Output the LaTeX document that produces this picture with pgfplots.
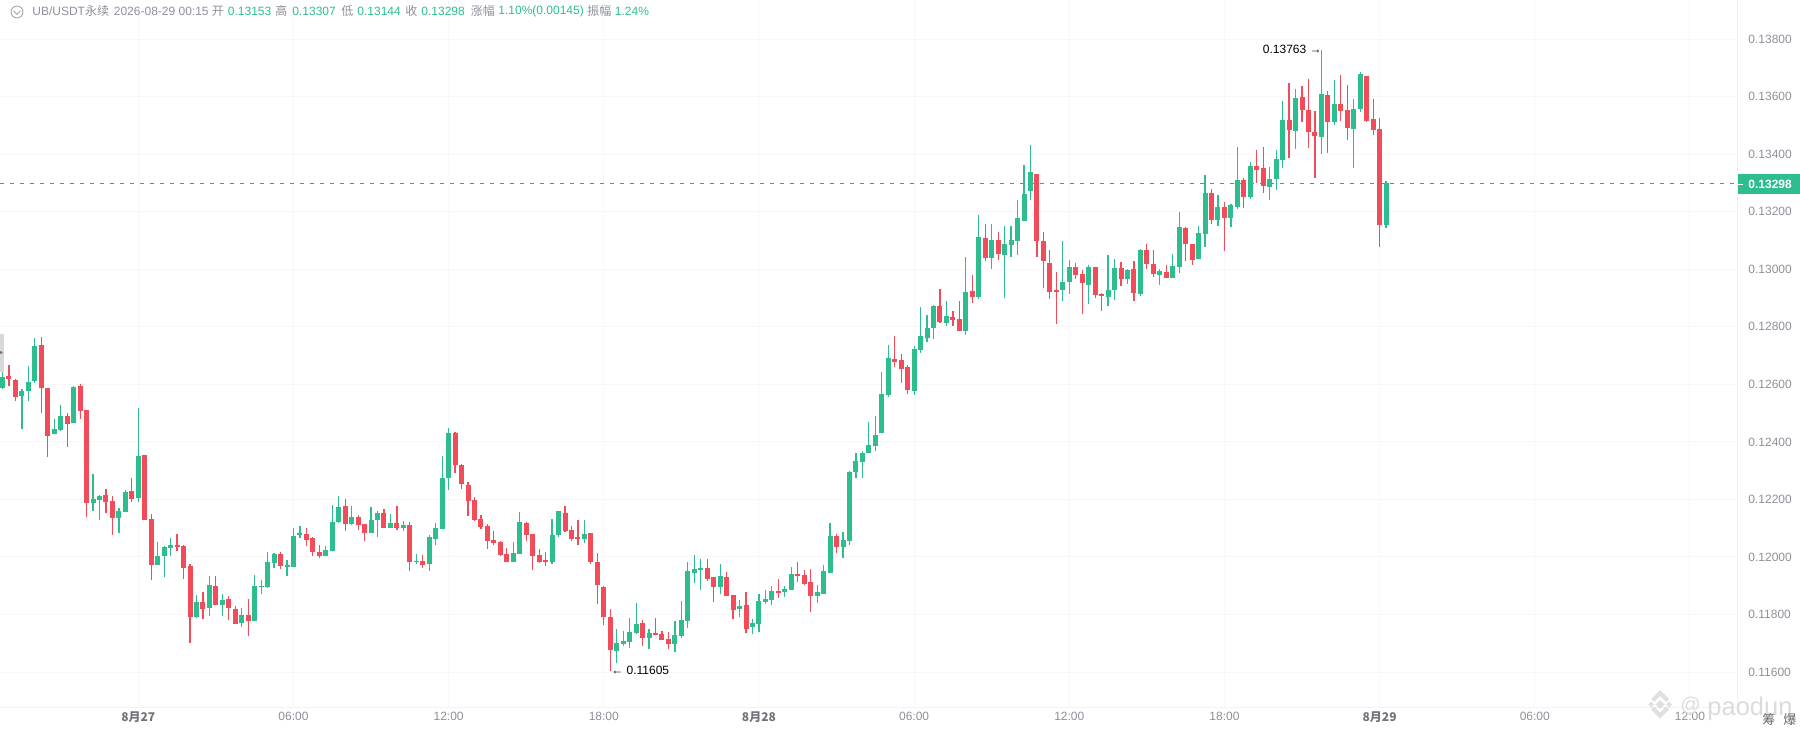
\documentclass[border=0pt]{standalone}
\usepackage{pgfplots}
\usepackage{pgfplotstable}
\pgfplotsset{compat=1.18}
\usepackage{fontspec}
\setmainfont{Liberation Sans}
\newfontfamily\cjk{Noto Sans CJK SC}
\definecolor{up}{HTML}{2DBD8F}
\definecolor{down}{HTML}{F24C5A}
\definecolor{lab}{HTML}{8C9099}
\definecolor{gridc}{HTML}{F8F8F8}
\definecolor{axc}{HTML}{F2F2F2}
\pgfplotstableread{
i o h l c
-21 0.12588 0.12644 0.12584 0.12624
-18 0.12561 0.12583 0.12444 0.12576
-17 0.12578 0.12664 0.12543 0.12608
-16 0.12613 0.12761 0.12603 0.12733
-13 0.12429 0.12478 0.12428 0.12445
-12 0.12442 0.12527 0.12439 0.12490
-10 0.12467 0.12594 0.12466 0.12591
-7 0.12189 0.12290 0.12159 0.12200
-6 0.12199 0.12214 0.12127 0.12212
-3 0.12137 0.12169 0.12082 0.12160
-2 0.12158 0.12233 0.12157 0.12226
0 0.12206 0.12517 0.12190 0.12351
3 0.11973 0.12051 0.11972 0.12003
4 0.12005 0.12038 0.11929 0.12035
5 0.12032 0.12067 0.12002 0.12042
9 0.11793 0.11868 0.11788 0.11844
11 0.11824 0.11934 0.11796 0.11903
13 0.11833 0.11870 0.11795 0.11851
16 0.11771 0.11823 0.11758 0.11798
18 0.11779 0.11936 0.11778 0.11899
19 0.11896 0.11920 0.11871 0.11899
20 0.11897 0.12016 0.11892 0.11983
21 0.11980 0.12015 0.11963 0.12010
23 0.11966 0.11988 0.11934 0.11971
24 0.11966 0.12101 0.11965 0.12073
25 0.12076 0.12108 0.12067 0.12083
29 0.12004 0.12039 0.12003 0.12025
30 0.12022 0.12180 0.12021 0.12122
31 0.12120 0.12212 0.12119 0.12174
33 0.12115 0.12176 0.12110 0.12139
36 0.12085 0.12174 0.12084 0.12129
37 0.12127 0.12159 0.12071 0.12153
39 0.12102 0.12150 0.12101 0.12119
41 0.12101 0.12124 0.12091 0.12112
43 0.11981 0.12011 0.11974 0.11987
45 0.11974 0.12076 0.11953 0.12070
46 0.12064 0.12119 0.12041 0.12101
47 0.12099 0.12351 0.12098 0.12275
48 0.12276 0.12448 0.12233 0.12431
58 0.11984 0.12051 0.11983 0.12014
59 0.12012 0.12157 0.12011 0.12122
64 0.11984 0.12132 0.11974 0.12077
65 0.12075 0.12161 0.12071 0.12160
69 0.12061 0.12128 0.12047 0.12080
74 0.11675 0.11750 0.11632 0.11702
75 0.11698 0.11743 0.11691 0.11709
76 0.11706 0.11787 0.11685 0.11740
77 0.11736 0.11841 0.11733 0.11768
79 0.11720 0.11751 0.11682 0.11736
83 0.11699 0.11776 0.11671 0.11729
84 0.11727 0.11846 0.11717 0.11782
85 0.11779 0.11982 0.11754 0.11952
86 0.11946 0.12007 0.11908 0.11959
87 0.11955 0.11993 0.11886 0.11962
90 0.11896 0.11975 0.11873 0.11934
93 0.11820 0.11850 0.11793 0.11830
95 0.11757 0.11784 0.11731 0.11771
96 0.11768 0.11871 0.11738 0.11848
97 0.11844 0.11885 0.11837 0.11855
98 0.11851 0.11900 0.11834 0.11882
100 0.11879 0.11900 0.11861 0.11889
101 0.11886 0.11965 0.11885 0.11941
105 0.11865 0.11903 0.11841 0.11879
106 0.11872 0.11973 0.11871 0.11952
107 0.11945 0.12117 0.11943 0.12073
109 0.12035 0.12087 0.11997 0.12059
110 0.12057 0.12298 0.12040 0.12296
111 0.12296 0.12362 0.12275 0.12334
112 0.12331 0.12369 0.12273 0.12362
113 0.12362 0.12468 0.12361 0.12390
114 0.12386 0.12490 0.12369 0.12424
115 0.12431 0.12642 0.12430 0.12567
116 0.12563 0.12736 0.12555 0.12692
120 0.12578 0.12732 0.12564 0.12723
121 0.12721 0.12869 0.12710 0.12768
122 0.12762 0.12840 0.12746 0.12796
123 0.12796 0.12875 0.12757 0.12872
125 0.12813 0.12890 0.12803 0.12838
128 0.12787 0.13043 0.12773 0.12921
130 0.12904 0.13189 0.12896 0.13112
132 0.13039 0.13156 0.13000 0.13102
134 0.13050 0.13150 0.12901 0.13088
135 0.13084 0.13150 0.13044 0.13102
136 0.13098 0.13240 0.13051 0.13178
137 0.13169 0.13361 0.13168 0.13262
138 0.13272 0.13432 0.13241 0.13338
143 0.12928 0.13098 0.12888 0.12956
144 0.12956 0.13031 0.12915 0.13008
147 0.12945 0.13015 0.12880 0.13008
150 0.12904 0.13050 0.12873 0.12928
151 0.12928 0.13035 0.12894 0.13005
153 0.12967 0.13001 0.12949 0.12998
155 0.12915 0.13069 0.12908 0.13068
158 0.12980 0.13001 0.12946 0.12995
160 0.12970 0.13054 0.12969 0.13012
161 0.13006 0.13200 0.12988 0.13147
164 0.13036 0.13150 0.13034 0.13127
165 0.13121 0.13327 0.13076 0.13266
167 0.13172 0.13259 0.13151 0.13217
169 0.13179 0.13225 0.13147 0.13224
170 0.13217 0.13425 0.13210 0.13311
172 0.13252 0.13373 0.13244 0.13359
175 0.13286 0.13356 0.13241 0.13314
176 0.13314 0.13415 0.13275 0.13384
177 0.13380 0.13585 0.13352 0.13519
179 0.13482 0.13627 0.13418 0.13596
183 0.13460 0.13763 0.13401 0.13610
185 0.13512 0.13658 0.13502 0.13575
188 0.13488 0.13592 0.13352 0.13558
189 0.13558 0.13685 0.13546 0.13679
193 0.13153 0.13307 0.13144 0.13298
}\upt
\pgfplotstableread{
i o h l c
-20 0.12629 0.12666 0.12594 0.12620
-19 0.12615 0.12620 0.12543 0.12557
-15 0.12737 0.12763 0.12502 0.12588
-14 0.12587 0.12588 0.12349 0.12422
-11 0.12490 0.12499 0.12382 0.12463
-9 0.12594 0.12601 0.12479 0.12508
-8 0.12511 0.12512 0.12140 0.12189
-5 0.12214 0.12237 0.12153 0.12192
-4 0.12195 0.12212 0.12076 0.12137
-1 0.12229 0.12274 0.12191 0.12202
1 0.12354 0.12355 0.12129 0.12130
2 0.12132 0.12150 0.11920 0.11973
6 0.12042 0.12079 0.12020 0.12036
7 0.12038 0.12040 0.11925 0.11963
8 0.11969 0.11976 0.11700 0.11793
10 0.11844 0.11880 0.11783 0.11820
12 0.11899 0.11934 0.11833 0.11834
14 0.11854 0.11863 0.11781 0.11824
15 0.11819 0.11829 0.11767 0.11768
17 0.11798 0.11855 0.11725 0.11779
22 0.12010 0.12018 0.11959 0.11970
26 0.12080 0.12100 0.12037 0.12060
27 0.12067 0.12071 0.12005 0.12016
28 0.12018 0.12042 0.11998 0.12004
32 0.12178 0.12202 0.12092 0.12116
34 0.12139 0.12145 0.12093 0.12112
35 0.12115 0.12116 0.12056 0.12085
38 0.12153 0.12166 0.12101 0.12102
40 0.12119 0.12178 0.12095 0.12101
42 0.12112 0.12123 0.11952 0.11981
44 0.11987 0.12007 0.11963 0.11973
49 0.12431 0.12435 0.12291 0.12318
50 0.12320 0.12322 0.12238 0.12252
51 0.12251 0.12261 0.12144 0.12196
52 0.12198 0.12210 0.12126 0.12127
53 0.12132 0.12145 0.12098 0.12105
54 0.12108 0.12114 0.12028 0.12057
55 0.12059 0.12092 0.12043 0.12050
56 0.12053 0.12054 0.12002 0.12007
57 0.12011 0.12033 0.11983 0.11984
60 0.12119 0.12122 0.12057 0.12078
61 0.12080 0.12081 0.11956 0.12005
62 0.12007 0.12029 0.11980 0.11984
63 0.11990 0.12016 0.11970 0.11984
66 0.12153 0.12178 0.12087 0.12092
67 0.12094 0.12108 0.12054 0.12064
68 0.12070 0.12128 0.12043 0.12061
70 0.12084 0.12085 0.11975 0.11981
71 0.11983 0.12013 0.11835 0.11904
72 0.11896 0.11900 0.11763 0.11790
73 0.11792 0.11820 0.11605 0.11678
78 0.11771 0.11782 0.11692 0.11720
80 0.11736 0.11787 0.11728 0.11729
81 0.11733 0.11743 0.11712 0.11713
82 0.11715 0.11739 0.11682 0.11698
88 0.11962 0.11993 0.11918 0.11924
89 0.11931 0.11932 0.11842 0.11896
91 0.11931 0.11948 0.11865 0.11866
92 0.11868 0.11869 0.11786 0.11817
94 0.11834 0.11879 0.11736 0.11750
99 0.11882 0.11925 0.11858 0.11875
102 0.11941 0.11982 0.11914 0.11934
103 0.11938 0.11955 0.11903 0.11907
104 0.11914 0.11959 0.11809 0.11866
108 0.12073 0.12080 0.12013 0.12035
117 0.12688 0.12768 0.12659 0.12679
118 0.12685 0.12707 0.12604 0.12655
119 0.12660 0.12666 0.12567 0.12582
124 0.12872 0.12933 0.12814 0.12815
126 0.12834 0.12855 0.12803 0.12824
127 0.12827 0.12889 0.12786 0.12787
129 0.12925 0.12980 0.12883 0.12904
131 0.13109 0.13157 0.13028 0.13039
133 0.13102 0.13128 0.13032 0.13053
139 0.13331 0.13332 0.13044 0.13098
140 0.13098 0.13130 0.12935 0.13029
141 0.13022 0.13067 0.12898 0.12921
142 0.12928 0.12989 0.12810 0.12921
145 0.13008 0.13022 0.12966 0.12980
146 0.12984 0.12996 0.12843 0.12952
148 0.13008 0.13009 0.12901 0.12911
149 0.12914 0.12918 0.12856 0.12907
152 0.13005 0.13026 0.12942 0.12967
154 0.13001 0.13028 0.12888 0.12916
156 0.13068 0.13088 0.13001 0.13017
157 0.13019 0.13068 0.12973 0.12985
159 0.12991 0.13015 0.12970 0.12971
162 0.13144 0.13145 0.13029 0.13086
163 0.13088 0.13089 0.13015 0.13033
166 0.13266 0.13279 0.13156 0.13172
168 0.13217 0.13233 0.13063 0.13179
171 0.13311 0.13318 0.13213 0.13252
173 0.13359 0.13415 0.13300 0.13345
174 0.13352 0.13424 0.13266 0.13288
178 0.13519 0.13647 0.13387 0.13485
180 0.13599 0.13635 0.13512 0.13554
181 0.13554 0.13661 0.13422 0.13478
182 0.13478 0.13551 0.13318 0.13464
184 0.13606 0.13619 0.13405 0.13512
186 0.13575 0.13676 0.13516 0.13551
187 0.13554 0.13641 0.13449 0.13491
190 0.13672 0.13673 0.13511 0.13516
191 0.13523 0.13592 0.13467 0.13485
192 0.13488 0.13526 0.13076 0.13153
}\downt
\begin{document}
\begin{tikzpicture}
\path[use as bounding box] (0pt,0pt) rectangle (900pt,-365pt);
\begin{axis}[
  at={(0pt,0pt)},anchor=north west,scale only axis,
  width=868.85pt,height=353.5pt,
  xmin=-21.392,xmax=247.39,ymin=0.114787,ymax=0.139355,
  axis x line*=bottom,axis y line*=right,
  axis line style={draw=axc,line width=0.5pt,-},
  major tick length=0pt,
  grid=major,grid style={draw=gridc,line width=0.5pt},
  xtick={0,24,48,72,96,120,144,168,192,216,240},
  xticklabels={{\cjk\bfseries\color{lab!80!black}8月27},06:00,12:00,18:00,{\cjk\bfseries\color{lab!80!black}8月28},06:00,12:00,18:00,{\cjk\bfseries\color{lab!80!black}8月29},06:00,12:00},
  ytick={0.116,0.118,0.120,0.122,0.124,0.126,0.128,0.130,0.132,0.134,0.136,0.138},
  scaled y ticks=false,
  y tick label style={/pgf/number format/fixed,/pgf/number format/fixed zerofill,/pgf/number format/precision=5,/pgf/number format/assume math mode=true},
  tick label style={font=\fontsize{6}{7}\selectfont,text=lab},
  yticklabel style={anchor=west,inner sep=0pt,xshift=5.15pt},
  xticklabel style={inner sep=0pt,yshift=-2.4pt},
]
\addplot[up!90!black,line width=0.6pt,dash pattern=on 2pt off 3pt,forget plot] coordinates {(-21.392,0.13298) (247.39,0.13298)};
\addplot[draw=none,mark=none,forget plot,error bars/.cd,y dir=plus,y explicit,error mark=none,error bar style={draw=up,line width=0.6pt,solid}] table[x=i,y=l,y error plus expr=\thisrow{h}-\thisrow{l}] {\upt};
\addplot[draw=none,mark=none,forget plot,error bars/.cd,y dir=plus,y explicit,error mark=none,error bar style={draw=down,line width=0.6pt,solid}] table[x=i,y=l,y error plus expr=\thisrow{h}-\thisrow{l}] {\downt};
\addplot[draw=none,mark=none,forget plot,error bars/.cd,y dir=plus,y explicit,error mark=none,error bar style={draw=up,line width=2.5pt,solid}] table[x=i,y=o,y error plus expr=\thisrow{c}-\thisrow{o}] {\upt};
\addplot[draw=none,mark=none,forget plot,error bars/.cd,y dir=plus,y explicit,error mark=none,error bar style={draw=down,line width=2.5pt,solid}] table[x=i,y=c,y error plus expr=\thisrow{o}-\thisrow{c}] {\downt};
\node[anchor=east,inner sep=0pt,font=\fontsize{6}{7}\selectfont,text=black] at (axis cs:183.1,0.13763) {0.13763 →};
\node[anchor=west,inner sep=0pt,font=\fontsize{6}{7}\selectfont,text=black] at (axis cs:73.1,0.11605) {← 0.11605};
\end{axis}
\begin{scope}[x=0.5pt,y=-0.5pt]
% last price tag
\fill[up] (1737.7,174) rectangle (1800,194);
\draw[white,line width=0.5pt] (1737.7,184) -- (1743,184);
\node[anchor=west,inner sep=0pt,text=white,font=\fontsize{6}{7}\selectfont\bfseries] at (1748,184) {0.13298};
% header
\draw[lab!80,line width=0.45pt] (17,12) circle (6);
\draw[lab!80,line width=0.45pt] (13.5,10.8) -- (17,14.3) -- (20.5,10.8);
\begin{scope}[every node/.style={anchor=west,inner sep=0pt,font=\fontsize{6}{7}\selectfont}]
\node[text=lab] at (32,11) {UB/USDT{\cjk 永续}};
\node[text=lab] at (113.5,11) {2026-08-29 00:15};
\node[text=lab] at (211.5,11) {\cjk 开};
\node[text=up] at (227.5,11) {0.13153};
\node[text=lab] at (275,11) {\cjk 高};
\node[text=up] at (292,11) {0.13307};
\node[text=lab] at (341,11) {\cjk 低};
\node[text=up] at (357,11) {0.13144};
\node[text=lab] at (405,11) {\cjk 收};
\node[text=up] at (421,11) {0.13298};
\node[text=lab] at (470.5,11) {\cjk 涨幅};
\node[text=up] at (498,11) {1.10\%(0.00145)};
\node[text=lab] at (587,11) {\cjk 振幅};
\node[text=up] at (614.5,11) {1.24\%};
\end{scope}
% handle
\fill[black!15] (0,334) rectangle (4,372);
\fill[black!55] (1,352.5) circle (1.6);
% watermark
\begin{scope}[fill=black!12]
\fill (1660,700) -- (1664.5,704.5) -- (1660,709) -- (1655.5,704.5) -- cycle;
\fill (1651,701.5) -- (1654,704.5) -- (1651,707.5) -- (1648,704.5) -- cycle;
\fill (1669,701.5) -- (1672,704.5) -- (1669,707.5) -- (1666,704.5) -- cycle;
\fill (1660,690) -- (1669,699) -- (1666,702) -- (1660,696) -- (1654,702) -- (1651,699) -- cycle;
\fill (1660,718.5) -- (1669,709.5) -- (1666,706.5) -- (1660,712.5) -- (1654,706.5) -- (1651,709.5) -- cycle;
\end{scope}
\node[anchor=west,inner sep=0pt,text=black!14,font=\fontsize{10}{12}\selectfont] at (1680,706) {@};
\node[anchor=west,inner sep=0pt,text=black!14,font=\fontsize{12.75}{14}\selectfont] at (1707,709) {paodun};
\node[anchor=west,inner sep=0pt,text=black!60,font=\fontsize{6.5}{7}\selectfont\cjk] at (1762,720) {筹};
\node[anchor=west,inner sep=0pt,text=black!60,font=\fontsize{6.5}{7}\selectfont\cjk] at (1783,720) {爆};
\end{scope}
\end{tikzpicture}
\end{document}
